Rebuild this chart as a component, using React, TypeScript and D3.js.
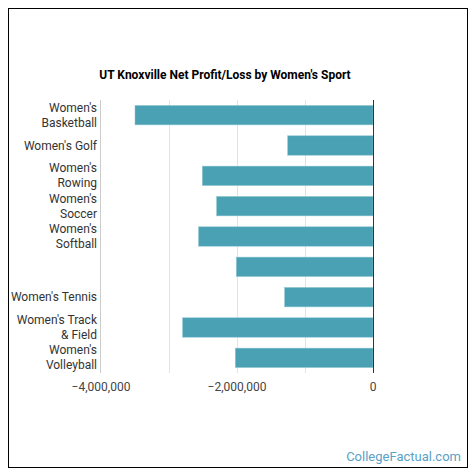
import React, { useEffect, useRef } from 'react';
import * as d3 from 'd3';

const sports = [
  "Women's Basketball",
  "Women's Golf",
  "Women's Rowing",
  "Women's Soccer",
  "Women's Softball",
  "",
  "Women's Tennis",
  "Women's Track & Field",
  "Women's Volleyball",
];
const netProfit = [-3500000, -1255000, -2510000, -2300000, -2565000, -2010000, -1300000, -2800000, -2025000];
const labelLines = [
  ["Women's", "Basketball"],
  ["Women's Golf"],
  ["Women's", "Rowing"],
  ["Women's", "Soccer"],
  ["Women's", "Softball"],
  [],
  ["Women's Tennis"],
  ["Women's Track", "& Field"],
  ["Women's", "Volleyball"],
];
const gridTicks = [-4000000, -3000000, -2000000, -1000000, 0];
const labelTicks = [-4000000, -2000000, 0];

const App: React.FC = () => {
  const svgRef = useRef<SVGSVGElement>(null);

  useEffect(() => {
    if (!svgRef.current) return;
    const svg = d3.select(svgRef.current);
    svg.selectAll('*').remove();

    const font = 'Roboto, sans-serif';
    const left = 101, right = 373, top = 100, bottom = 373;

    // outer frame
    svg.append('rect')
      .attr('x', 8.5).attr('y', 8.5)
      .attr('width', 459).attr('height', 459)
      .attr('fill', '#fff').attr('stroke', '#000').attr('stroke-width', 1);

    svg.append('text')
      .attr('x', 225).attr('y', 79)
      .attr('text-anchor', 'middle')
      .attr('font-family', font).attr('font-weight', 'bold').attr('font-size', 12)
      .attr('fill', '#000')
      .text("UT Knoxville Net Profit/Loss by Women's Sport");

    const x = d3.scaleLinear().domain([-4000000, 0]).range([left, right]);
    const y = d3.scaleBand<string>()
      .domain(sports.map((s, i) => `${i}:${s}`))
      .range([top, bottom])
      .paddingInner(0.36)
      .paddingOuter(0.18);
    const keys = y.domain();

    // gridlines
    svg.append('g').selectAll('line')
      .data(gridTicks.filter(t => t !== 0 && t !== -4000000))
      .enter().append('line')
      .attr('x1', d => Math.round(x(d)) + 0.5).attr('x2', d => Math.round(x(d)) + 0.5)
      .attr('y1', top).attr('y2', bottom)
      .attr('stroke', '#e3e3e3').attr('stroke-width', 1);

    // left axis line
    svg.append('line')
      .attr('x1', 100.5).attr('x2', 100.5)
      .attr('y1', top).attr('y2', bottom)
      .attr('stroke', '#cccccc');

    // bars
    svg.append('g').selectAll('rect')
      .data(netProfit)
      .enter().append('rect')
      .attr('x', d => x(d))
      .attr('y', (d, i) => y(keys[i])!)
      .attr('width', d => x(0) - x(d))
      .attr('height', y.bandwidth())
      .attr('fill', '#4ba1b4')
      .attr('stroke', '#8cc6d2')
      .attr('stroke-width', 0.5);

    // zero line
    svg.append('line')
      .attr('x1', x(0) + 0.5).attr('x2', x(0) + 0.5)
      .attr('y1', top).attr('y2', bottom)
      .attr('stroke', '#333');

    // category labels
    const lab = svg.append('g')
      .attr('font-family', font).attr('font-size', 12).attr('fill', '#333')
      .attr('text-anchor', 'end');
    labelLines.forEach((lines, i) => {
      const cy = y(keys[i])! + y.bandwidth() / 2;
      lines.forEach((ln, j) => {
        const base = lines.length === 1 ? cy + 4 : cy - 3.5 + j * 15;
        lab.append('text').attr('x', 97).attr('y', base).text(ln);
      });
    });

    // tick labels
    svg.append('g').selectAll('text')
      .data(labelTicks)
      .enter().append('text')
      .attr('x', d => x(d))
      .attr('y', 391)
      .attr('text-anchor', 'middle')
      .attr('font-family', font).attr('font-size', 12).attr('fill', '#444')
      .text(d => d3.format(',')(d));

    svg.append('text')
      .attr('x', 461).attr('y', 461)
      .attr('text-anchor', 'end')
      .attr('font-family', font).attr('font-size', 13).attr('fill', '#5a9fc6')
      .text('CollegeFactual.com');
  }, []);

  return (
    <svg ref={svgRef} width={476} height={476}
      style={{ position: 'absolute', left: 0, top: 0, background: '#fff' }} />
  );
};

export default App;
